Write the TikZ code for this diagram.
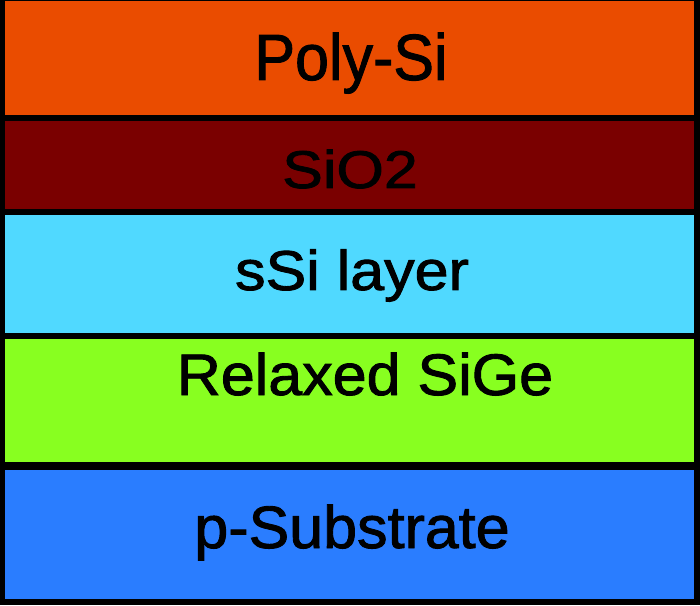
\documentclass[tikz,border=0pt]{standalone}
\usepackage{fontspec}
\setmainfont[FakeBold=1.5]{Liberation Sans}
\definecolor{polyc}{HTML}{EA4C00}
\definecolor{oxc}{HTML}{7A0000}
\definecolor{ssic}{HTML}{50D9FF}
\definecolor{sigec}{HTML}{88FF20}
\definecolor{subc}{HTML}{2A7DFF}
\tikzset{
  layer/.style={draw=none},
  lbl/.style={anchor=base, inner sep=0pt, font=\fontsize{61}{61}\selectfont, text=black}
}
\begin{document}
\begin{tikzpicture}[x=1pt,y=1pt]
\fill[black] (0,0) rectangle (700,605);
\useasboundingbox (0,0) rectangle (700,605);
\fill[polyc] (5,604) rectangle (694,490);
\fill[oxc] (5,484) rectangle (694,396);
\fill[ssic] (5,390) rectangle (694,272);
\fill[sigec] (5,266) rectangle (694,143);
\fill[subc] (5,135) rectangle (694,6);
\node[lbl] (poly) at (351,525) {\scalebox{1}[1.07]{Poly-Si}};
\node[lbl] (ox) at (350,417) {\scalebox{1}[0.87]{SiO2}};
\node[lbl] (ssi) at (352,315) {\scalebox{1}[0.92]{sSi layer}};
\node[lbl] (sige) at (365,210) {\scalebox{1}[0.96]{Relaxed SiGe}};
\node[lbl] (sub) at (352,57) {\scalebox{1}[0.98]{p-Substrate}};
\end{tikzpicture}
\end{document}
